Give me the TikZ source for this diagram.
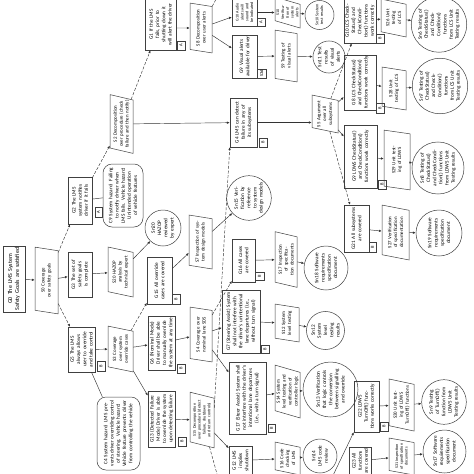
\documentclass[tikz,border=0pt]{standalone}
\usepackage{fontspec}
\setmainfont{Carlito}
\usetikzlibrary{shapes.geometric,arrows.meta}
\newcommand\gsn[7]{%
  \pgfmathsetmacro\gsnW{#6-#5}%
  \pgfmathsetmacro\gsnH{#4-#3}%
  \pgfmathsetmacro\gsnX{(#3+#4)/2}%
  \pgfmathsetmacro\gsnY{(#5+#6)/2}%
  \pgfmathsetmacro\gsnTa{#6-#5-2.5}%
  \pgfmathsetmacro\gsnTb{#6-#5-0.33*(#4-#3)-3}%
  \pgfmathsetmacro\gsnTc{0.74*(#6-#5)}%
  \node[#1, minimum width=\gsnW pt, minimum height=\gsnH pt] (#2) at (\gsnX,\gsnY) {#7};}
\begin{document}
\begin{tikzpicture}[x=1pt,y=-1pt,
  base/.style={draw=black!75, line width=0.5pt, rotate=90, inner sep=0.3pt, align=center, font=\fontsize{5.2}{6.2}\selectfont},
  goal/.style={base, rectangle, text width=\gsnTa pt},
  strat/.style={base, trapezium, trapezium left angle=72, trapezium right angle=108, trapezium stretches=true, text width=\gsnTb pt, font=\fontsize{4.9}{5.9}\selectfont},
  soln/.style={base, circle, text width=\gsnTc pt},
  ctx/.style={base, rectangle, rounded corners=9pt, text width=\gsnTa pt},
  lab/.style={base, rectangle, font=\fontsize{4.5}{5}\selectfont, inner sep=0pt},
  small/.style={font=\fontsize{4.1}{4.8}\selectfont},
  link/.style={draw=black!80, line width=0.45pt, -{Latex[length=2.8pt,width=2.4pt]}},
  dlink/.style={link, dash pattern=on 3pt off 1.6pt},
  clink/.style={draw=black!80, line width=0.45pt}
]
\useasboundingbox (0,0) rectangle (474,474);
\fill[white] (0,0) rectangle (474,474);
\clip (0,0) rectangle (474,474);
% goals
\gsn{goal, font=\fontsize{6}{7}\selectfont}{g0}{3}{25}{246}{312}{G0 The LMS System Safety Goals are satisfied}
\gsn{goal}{g2}{68}{92}{177}{224}{G2 The LMS system notifies driver if it fails}
\gsn{goal}{g3}{68}{92}{252}{297}{G3 The set of safety goals is complete}
\gsn{goal}{g5}{68}{95}{327}{372}{G5 The LMS always allows user to override and take control}
\gsn{goal}{g1}{145}{176}{-1}{50}{G1 If the LMS fails, prior to shutting down it will alert the driver}
\gsn{goal}{g4}{230}{257}{98}{147}{G4 LMS can detect failure in any of its subsystems}
\gsn{goal, small}{g10a}{232}{257}{-1}{26}{G10 Audio alerts will sound and be indicated}
\gsn{goal}{g9v}{232}{257}{35}{78}{G9 Visual alerts available for driver}
\gsn{goal}{g15}{147}{172}{257}{304}{G15 All override cases are covered}
\gsn{goal}{g16}{232}{255}{239}{282}{G16 All cases are covered}
\gsn{goal}{g6}{148}{175}{316}{370}{G6 (Nominal Mode) Driver shall be able to manually override the system at any time}
\gsn{goal}{g13}{148}{175}{391}{447}{G13 (Detected Failure Mode) Driver is able to override the system upon detecting failure}
\gsn{goal}{g7}{222}{260}{290}{353}{G7 (Steering Assist) System shall not interfere with the driver's unintentional lane departures (i.e., without turn signal)}
\gsn{goal}{g17}{229}{266}{362}{434}{G17 (Steer Assist) System shall not interfere with the driver's intentional lane departures (i.e., with a turn signal)}
\gsn{goal}{g12}{229}{252}{446}{475}{G12 LMS implies shutdown}
\gsn{goal}{g10}{344}{376}{-1}{43}{G10 LCS CheckStatus() and CheckCondition() functions work correctly}
\gsn{goal}{g8}{344}{376}{55}{110}{G8 LCS CheckStatus() and CheckCondition() functions work correctly}
\gsn{goal}{g9}{344}{377}{125}{188}{G9 LDWS CheckStatus() and CheckCondition() functions work correctly}
\gsn{goal}{g21}{344}{369}{205}{252}{G21 All subsystems are covered}
\gsn{goal}{g22}{354}{379}{381}{432}{G22 LDWS TurnOff() functions works correctly}
\gsn{goal}{g23}{349}{371}{447}{475}{G23 All functions are covered}
% strategies
\gsn{strat}{s0}{35}{58}{247}{314}{S0 Coverage over safety goals}
\gsn{strat}{s20}{108}{133}{247}{297}{S20 HAZOP analysis by technical expert}
\gsn{strat}{s2}{110}{133}{95}{153}{S2 Decomposition over procedure (check failure and then notify)}
\gsn{strat}{s3}{108}{133}{326}{372}{S3 Coverage over system override cases}
\gsn{strat}{s8}{190}{212}{3}{53}{S8 Decomposition over user alerts}
\gsn{strat}{s9}{275}{297}{30}{82}{S9 Testing of visual alerts}
\gsn{strat, small}{s10}{275}{300}{-1}{26}{S10 Verification of system alerts}
\gsn{strat}{s7}{189}{212}{215}{269}{S7 Inspection of system design models}
\gsn{strat}{s17}{275}{297}{232}{287}{S17 Inspection of specification documents}
\gsn{strat}{s4}{190}{212}{307}{362}{S4 Coverage over nominal lane SDS}
\gsn{strat}{s12}{275}{299}{304}{342}{S12 System level testing}
\gsn{strat}{s14}{275}{300}{367}{416}{S14 System level testing and verification of controller logic}
\gsn{strat, small}{s15}{190}{214}{393}{447}{S15 Decomposition over procedure (detect failure, shutdown and return controls)}
\gsn{strat}{s16}{275}{300}{442}{475}{S16 Code checking of LMS}
\gsn{strat}{s5}{312}{338}{95}{133}{S5 Argument over all subsystems}
\gsn{strat}{s26}{381}{406}{-1}{37}{S26 Unit testing of LCS}
\gsn{strat}{s28}{382}{406}{67}{110}{S28 Unit testing of LCS}
\gsn{strat}{s29}{384}{410}{130}{190}{S29 Unit testing of LDWS}
\gsn{strat}{s27}{382}{409}{205}{260}{S27 Verification of specification documentation}
\gsn{strat}{s30}{389}{414}{379}{431}{S30 Unit testing of LDWS TurnOff() functions}
\gsn{strat, small}{s31}{389}{414}{438}{475}{S31 Inspection of specification documents}
% solutions
\gsn{soln}{sn20}{145}{181}{210}{246}{Sn20 HAZOP reviewed by expert}
\gsn{soln}{sn15}{227}{271}{176}{220}{Sn15 Verification by reference to system design models}
\gsn{soln}{sn18}{304}{348}{246}{290}{Sn18 Software requirements specification document}
\gsn{soln}{sn11}{314}{344}{42}{72}{Sn11 Test results of visual alerts}
\gsn{soln, small}{sn10}{305}{334}{0.5}{29.5}{Sn10 System test results}
\gsn{soln}{sn6}{415}{463}{0.5}{48.5}{Sn6 Testing of CheckStatus() and CheckCondition() functions from LCS Unit Testing results}
\gsn{soln}{sn7}{416}{464}{62}{110}{Sn7 Testing of CheckStatus() and CheckCondition() functions from LCS Unit Testing results}
\gsn{soln}{sn8}{413}{463}{143}{193}{Sn8 Testing of CheckStatus() and CheckCondition() functions from LDWS Unit Testing results}
\gsn{soln}{sn19}{416}{462}{210}{256}{Sn19 Software requirements specification document}
\gsn{soln}{sn12}{309}{342}{314}{347}{Sn12 System level testing results}
\gsn{soln}{sn13}{303}{358}{362}{417}{Sn13 Verification that logic controls the conversion between signalling and override}
\gsn{soln}{sn9}{422}{466}{380}{424}{Sn9 Testing of TurnOff() function from LDWS Unit Testing results}
\gsn{soln}{sn14}{303}{337}{439}{473}{Sn14 LMS code review}
\gsn{soln}{sn17}{423}{466}{430}{473}{Sn17 Software requirements specification document}
% contexts
\gsn{ctx}{c9}{103}{143}{164}{227}{C9 System hazard: Failing to notify driver when LMS fails. Vehicle hazard: Unintended operation of vehicle features}
\gsn{ctx}{c4}{97}{140}{397}{470}{C4 System hazard: LMS prevents driver overriding control of steering. Vehicle hazard: Vehicle feature prevents driver from controlling the vehicle}
% labels
\gsn{lab}{la1}{177}{185}{41}{50}{A}
\gsn{lab}{la10}{257}{265}{18}{26}{A}
\gsn{lab}{ls9}{257}{266}{69}{78}{S3d}
\gsn{lab}{la2}{95}{102}{207}{217}{A}
\gsn{lab}{lb4}{259}{267}{138}{147}{B}
\gsn{lab}{lb15}{172}{180}{294}{304}{B}
\gsn{lab}{lb16}{255}{264}{272}{280}{B}
\gsn{lab}{lb5}{97}{105}{361}{371}{B}
\gsn{lab}{lb6}{177}{185}{364}{373}{B}
\gsn{lab}{lb13}{178}{186}{437}{446}{B}
\gsn{lab}{lb7}{261}{269}{345}{353}{B}
\gsn{lab}{lb17}{268}{275}{424}{432}{B}
\gsn{lab}{lb10}{376}{384}{34}{43}{B}
\gsn{lab}{lb8}{376}{384}{103}{113}{B}
\gsn{lab}{lb9}{378}{386}{180}{189}{B}
\gsn{lab}{lb21}{369}{376}{242}{252}{B}
\gsn{lab}{lb22}{380}{388}{422}{431}{B}
\coordinate (topc) at (226,-20);
\coordinate (botg) at (326,490);
\coordinate (bots) at (222,492);
% connectors
\draw[link] (g0) -- (s0);
\draw[link] (s0) -- (g3);
\draw[dlink] (s0) -- (g2);
\draw[dlink] (s0) -- (g5);
\draw[dlink] (g2) -- (s2);
\draw[clink] (g2) -- (c9);
\draw[dlink] (s2) -- (g1);
\draw[link] (s2) -- (g4);
\draw[link] (g1.south |- s8) -- (s8);
\draw[link] (s8) -- (g10a);
\draw[link] (s8) -- (g9v);
\draw[clink, dash pattern=on 3pt off 1.6pt] (s8) -- (topc);
\draw[link] (g10a) -- (s10);
\draw[link] (s10) -- (sn10);
\draw[link] (g9v) -- (s9);
\draw[link] (s9) -- (sn11);
\draw[link] (g3) -- (s20);
\draw[link] (s20) -- (sn20);
\draw[link] (g4) -- (s5.north |- g4);
\draw[dlink] (s5) -- (g10);
\draw[link] (s5) -- (g8);
\draw[link] (s5) -- (g9);
\draw[dlink] (s5) -- (g21);
\draw[link] (g10) -- (s26);
\draw[link] (s26) -- (sn6);
\draw[link] (g8) -- (s28);
\draw[link] (s28) -- (sn7);
\draw[link] (g9) -- (s29);
\draw[link] (s29) -- (sn8);
\draw[link] (g21) -- (s27);
\draw[link] (s27) -- (sn19);
\draw[link] (g5) -- (s3);
\draw[clink] (g5) -- (c4);
\draw[dlink] (s3) -- (g15);
\draw[link] (s3) -- (g6);
\draw[link] (s3) -- (g13);
\draw[link] (g15) -- (s7);
\draw[link] (s7) -- (sn15);
\draw[dlink] (s4) -- (g16);
\draw[link] (g16) -- (s17);
\draw[link] (s17) -- (sn18);
\draw[link] (g6) -- (s4);
\draw[link] (s4) -- (g7);
\draw[link] (s4) -- (g17);
\draw[link] (g7) -- (s12);
\draw[link] (s12) -- (sn12);
\draw[link] (g17) -- (s14);
\draw[link] (s14) -- (sn13);
\draw[link] (g13) -- (s15);
\draw[dlink] (s15.south east) -- (g4.north west);
\draw[link] (s15) -- (g12);
\draw[clink, dash pattern=on 3pt off 1.6pt] (s15) -- (bots);
\draw[link] (g12) -- (s16);
\draw[link] (s16) -- (sn14);
\draw[link] (g22) -- (s30);
\draw[link] (s30) -- (sn9);
\draw[link] (botg) -- (g22.north west);
\draw[link] (g23) -- (s31);
\draw[link] (s31) -- (sn17);
\end{tikzpicture}
\end{document}
